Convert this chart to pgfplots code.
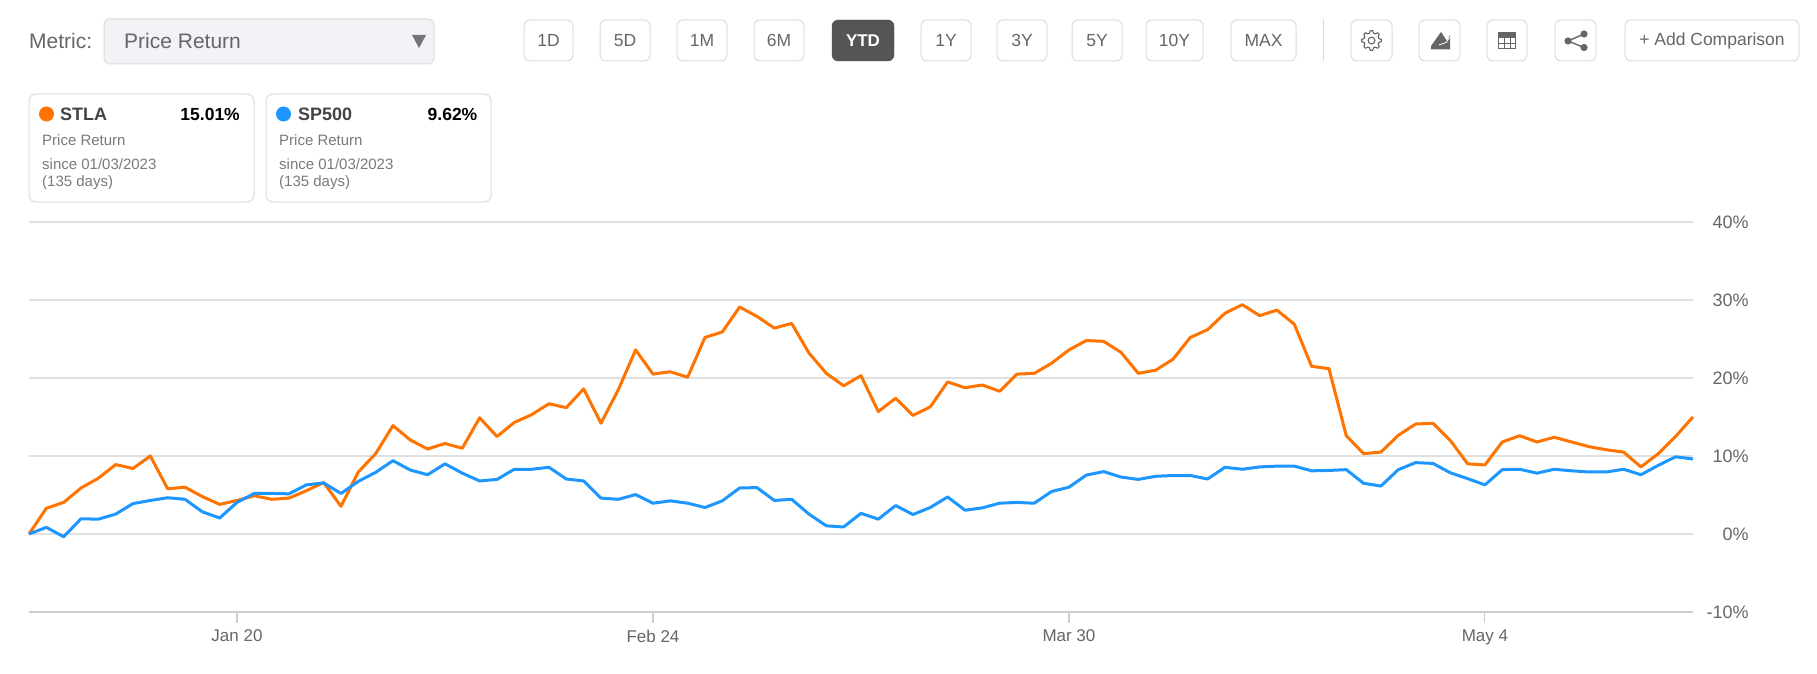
\documentclass[border=0pt]{standalone}
\usepackage{pgfplots}
\usepackage{pgfplotstable}
\usepackage{fontspec}
\pgfplotsset{compat=1.18}
\setmainfont{Liberation Sans}
\definecolor{stla}{HTML}{FF7300}
\definecolor{spx}{HTML}{1E96FF}
\definecolor{gridc}{HTML}{E0E0E0}
\definecolor{axisc}{HTML}{CCCCCC}
\definecolor{txt}{HTML}{666666}
\definecolor{sub}{HTML}{7A7A7A}
\definecolor{btn}{HTML}{DCDCDC}
\definecolor{icon}{HTML}{666666}
\pgfplotstableread{
i stla spx
0 0 0
1 3.3 0.85
2 4.05 -0.35
3 5.9 1.95
4 7.15 1.9
5 8.9 2.55
6 8.4 3.9
7 10 4.3
8 5.8 4.65
9 6.0 4.45
10 4.8 2.85
11 3.8 2.05
12 4.3 4.05
13 4.9 5.2
14 4.45 5.2
15 4.6 5.15
16 5.55 6.3
17 6.6 6.55
18 3.55 5.2
19 7.95 6.75
20 10.3 7.9
21 13.9 9.4
22 12.05 8.2
23 10.9 7.6
24 11.6 9.0
25 11.0 7.8
26 14.9 6.8
27 12.5 7.0
28 14.3 8.3
29 15.3 8.3
30 16.7 8.55
31 16.2 7.05
32 18.6 6.8
33 14.2 4.6
34 18.5 4.45
35 23.6 5.05
36 20.5 3.95
37 20.8 4.25
38 20.1 3.95
39 25.2 3.4
40 25.9 4.25
41 29.1 5.9
42 27.9 5.95
43 26.4 4.3
44 27.0 4.45
45 23.2 2.55
46 20.6 1.05
47 19.0 0.9
48 20.3 2.65
49 15.7 1.9
50 17.4 3.65
51 15.2 2.5
52 16.3 3.4
53 19.5 4.75
54 18.75 3.05
55 19.1 3.35
56 18.3 3.95
57 20.5 4.05
58 20.6 3.95
59 21.9 5.45
60 23.6 6.0
61 24.8 7.55
62 24.7 8.0
63 23.3 7.3
64 20.6 7.0
65 21.0 7.4
66 22.4 7.5
67 25.2 7.5
68 26.2 7.05
69 28.3 8.55
70 29.4 8.3
71 28.0 8.6
72 28.7 8.7
73 26.9 8.7
74 21.5 8.1
75 21.2 8.15
76 12.6 8.25
77 10.3 6.5
78 10.5 6.15
79 12.65 8.25
80 14.1 9.15
81 14.2 9.05
82 12.0 7.85
83 9.0 7.1
84 8.85 6.3
85 11.8 8.25
86 12.6 8.3
87 11.8 7.8
88 12.4 8.3
89 11.8 8.1
90 11.2 7.95
91 10.8 7.95
92 10.5 8.3
93 8.6 7.6
94 10.3 8.8
95 12.5 9.9
96 15.01 9.62
}\datatable
\newcommand{\fs}[1]{\fontsize{#1}{#1}\selectfont}
\newcommand{\btn}[3]{%
  \draw[btn,line width=1pt,rounded corners=6pt,fill=white] (#1,20) rectangle (#2,61);
  \node[text=txt,inner sep=0pt,anchor=center] at ({(#1+#2)/2},40.5) {\fs{17.5}\vphantom{0}#3};}
\begin{document}
\begin{tikzpicture}
\useasboundingbox (0pt,0pt) rectangle (1817pt,-674pt);
\fill[white] (0pt,0pt) rectangle (1817pt,-674pt);
\begin{axis}[
  at={(29pt,-612pt)}, anchor=south west,
  scale only axis, width=1664pt, height=390pt,
  xmin=0, xmax=96, ymin=-10, ymax=40,
  axis x line*=bottom, axis y line*=right,
  x axis line style={-,draw=axisc,line width=1.3pt},
  y axis line style={draw=none},
  ytick={-10,0,10,20,30,40},
  yticklabels={-10\%\hspace{-5pt},0\%,10\%,20\%,30\%,40\%},
  xtick={12,36,60,84},
  xticklabels={Jan 20,Feb 24,Mar 30,May 4},
  typeset ticklabels with strut,
  ymajorgrids, grid style={gridc,line width=1.3pt},
  ytick style={draw=none},
  xtick style={draw=axisc,line width=1.1pt},
  tick align=outside, major tick length=11pt,
  yticklabel style={anchor=east,inner sep=0pt,xshift=45pt,yshift=-3pt,text=txt,font=\fs{18}},
  xticklabel style={text=txt,font=\fs{17},inner sep=0pt,yshift=-6.5pt},
  clip=false,
]
\addplot[stla,line width=3pt,line join=round] table[x=i,y=stla] {\datatable};
\addplot[spx,line width=3pt,line join=round] table[x=i,y=spx] {\datatable};
\end{axis}
\begin{scope}[x=1pt,y=-1pt]
% toolbar
\node[text=txt,anchor=west,inner sep=0pt] at (29,41) {\fs{21}Metric:};
\draw[btn,line width=1pt,rounded corners=6pt,fill={rgb,255:red,242;green,243;blue,247}] (104,19) rectangle (434,64);
\node[text=txt,anchor=west,inner sep=0pt] at (124,41) {\fs{21}Price Return};
\fill[icon!90] (412,35) -- (426,35) -- (419,48) -- cycle;
\btn{524}{573}{1D}
\btn{600}{650}{5D}
\btn{677}{727}{1M}
\btn{754}{804}{6M}
\draw[rounded corners=6pt,fill={rgb,255:red,85;green,85;blue,85},draw={rgb,255:red,85;green,85;blue,85}] (832,20) rectangle (894,61);
\node[text=white,inner sep=0pt] at (863,40.5) {\fs{17}\textbf{YTD}};
\btn{921}{971}{1Y}
\btn{997}{1047}{3Y}
\btn{1072}{1122}{5Y}
\btn{1146}{1203}{10Y}
\btn{1231}{1296}{MAX}
\draw[btn,line width=1pt] (1323,19) -- (1323,61);
\btn{1351}{1392}{}
\btn{1419}{1460}{}
\btn{1487}{1527}{}
\btn{1555}{1596}{}
\btn{1625}{1799}{+ Add Comparison}
% gear
\draw[icon,line width=1.1pt,line join=round]
  plot[samples at={0,7.5,...,352.5}] ({1371.5+(mod(\x+11.25,45)<22.5?9.8:7.6)*cos(\x)},{40.5+(mod(\x+11.25,45)<22.5?9.8:7.6)*sin(\x)}) -- cycle;
\draw[icon,line width=1.1pt] (1371.5,40.5) circle (3.4);
% area icon
\fill[icon] (1431,49.5) -- (1431,46) -- (1441,32) -- (1447,41) -- (1450,35) -- (1450,49.5) -- cycle;
\draw[white,line width=0.8pt] (1439,45) -- (1446,42.5) -- (1451,36);
% table icon
\fill[icon] (1498,32) rectangle (1516,38);
\draw[icon,line width=1pt] (1498.5,38) rectangle (1515.5,49);
\draw[icon,line width=0.8pt] (1504.3,38) -- (1504.3,49) (1510,38) -- (1510,49) (1498.5,43.5) -- (1515.5,43.5);
% share icon
\draw[icon,line width=1.4pt] (1584,34) -- (1568,41) -- (1584,47.5);
\fill[icon] (1568,41) circle (3.6) (1584,34) circle (3.6) (1584,47.5) circle (3.6);
% cards
\draw[btn,line width=1pt,rounded corners=7pt] (29,94) rectangle (254,202);
\draw[btn,line width=1pt,rounded corners=7pt] (266,94) rectangle (491,202);
\fill[stla] (46.5,114) circle (7.5);
\fill[spx] (283.5,114) circle (7.5);
\node[anchor=west,inner sep=0pt,text={rgb,255:red,68;green,68;blue,68}] at (60,114) {\fs{18}\textbf{STLA}};
\node[anchor=west,inner sep=0pt,text={rgb,255:red,68;green,68;blue,68}] at (298,114) {\fs{18}\textbf{SP500}};
\node[anchor=east,inner sep=0pt,text=black] at (240,114) {\fs{17.5}\textbf{15.01\%}};
\node[anchor=east,inner sep=0pt,text=black] at (477.5,114) {\fs{17.5}\textbf{9.62\%}};
\foreach \xx in {42,279}{
  \node[anchor=west,inner sep=0pt,text=sub] at (\xx,140) {\fs{15}Price Return};
  \node[anchor=west,inner sep=0pt,text=sub] at (\xx,164) {\fs{15}since 01/03/2023};
  \node[anchor=west,inner sep=0pt,text=sub] at (\xx,183) {\fs{15}(135 days)};
}
\end{scope}
\end{tikzpicture}
\end{document}
